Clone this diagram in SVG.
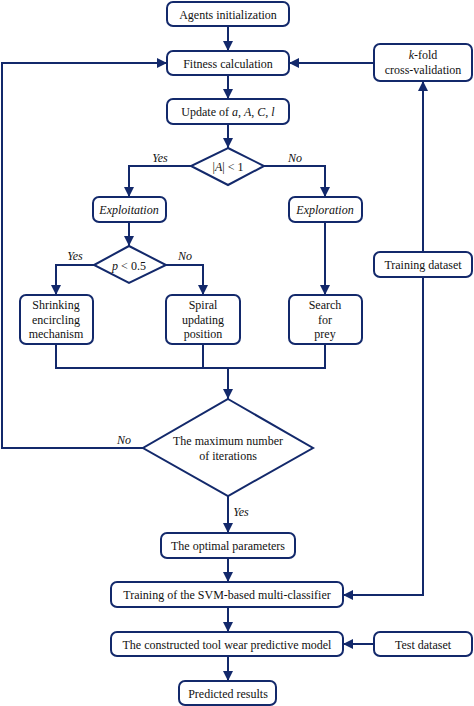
<svg xmlns="http://www.w3.org/2000/svg" width="474" height="706" viewBox="0 0 474 706" font-family="'Liberation Serif', 'DejaVu Serif', serif">
<style>
.box{fill:#fff;stroke:#13296b;stroke-width:2}
.ln{fill:none;stroke:#13296b;stroke-width:2}
.arr{marker-end:url(#ah)}
text{font-family:'Liberation Serif','DejaVu Serif',serif;font-size:12px;fill:#111;text-anchor:middle}
.it{font-style:italic}
</style>
<defs>
<marker id="ah" markerUnits="userSpaceOnUse" markerWidth="10" markerHeight="10" refX="10" refY="5" orient="auto" viewBox="0 0 10 10">
<path d="M0,0 L10,5 L0,10 z" fill="#13296b"/>
</marker>
</defs>
<rect width="474" height="706" fill="#fff"/>
<g id="connectors">
<path class="ln arr" d="M228,26 V51"/>
<path class="ln arr" d="M228,75 V99"/>
<path class="ln arr" d="M228,124 V148"/>
<path class="ln arr" d="M191,166 H129 V197"/>
<path class="ln arr" d="M264,166 H325 V197"/>
<path class="ln arr" d="M129,222 V246"/>
<path class="ln arr" d="M94,265 H56 V295"/>
<path class="ln arr" d="M166,265 H203 V295"/>
<path class="ln arr" d="M325,222 V295"/>
<path class="ln" d="M56,344 V368 H325 V344 M203,344 V368"/>
<path class="ln arr" d="M228,368 V399"/>
<path class="ln arr" d="M143,448 H2 V63 H167"/>
<path class="ln arr" d="M228,496 V533"/>
<path class="ln arr" d="M228,558 V582"/>
<path class="ln arr" d="M228,607 V632"/>
<path class="ln arr" d="M228,656 V681"/>
<path class="ln arr" d="M374,63 H289"/>
<path class="ln arr" d="M423,252 V81"/>
<path class="ln arr" d="M423,277 V595 H343"/>
<path class="ln arr" d="M374,644 H343"/>
<text class="it" x="160" y="162">Yes</text>
<text class="it" x="295" y="162">No</text>
<text class="it" x="75" y="260">Yes</text>
<text class="it" x="185" y="260">No</text>
<text class="it" x="124" y="444">No</text>
<text class="it" x="241" y="516">Yes</text>
</g>
<g id="agents"><rect class="box" x="167" y="2" width="122" height="24" rx="6"/><text x="228" y="18.5">Agents initialization</text></g>
<g id="fitness"><rect class="box" x="167" y="51" width="122" height="24" rx="6"/><text x="228" y="67.5">Fitness calculation</text></g>
<g id="kfold"><rect class="box" x="374" y="44" width="98" height="37" rx="6"/><text x="423" y="59"><tspan class="it">k</tspan>-fold</text><text x="423" y="74">cross-validation</text></g>
<g id="update"><rect class="box" x="167" y="99" width="122" height="25" rx="6"/><text x="228" y="116">Update of <tspan class="it">a</tspan>, <tspan class="it">A</tspan>, <tspan class="it">C</tspan>, <tspan class="it">l</tspan></text></g>
<g id="decisionA"><path class="box" d="M228,148 L264,166 L228,185 L191,166 Z"/><text x="228" y="170.5">|<tspan class="it">A</tspan>| &lt; 1</text></g>
<g id="exploitation"><rect class="box" x="93" y="197" width="73" height="25" rx="6"/><text class="it" x="129" y="214">Exploitation</text></g>
<g id="exploration"><rect class="box" x="289" y="197" width="73" height="25" rx="6"/><text class="it" x="325" y="214">Exploration</text></g>
<g id="decisionP"><path class="box" d="M129,246 L166,265 L129,283 L94,265 Z"/><text x="129" y="269.5"><tspan class="it">p</tspan> &lt; 0.5</text></g>
<g id="shrinking"><rect class="box" x="20" y="295" width="73" height="49" rx="6"/><text x="56" y="309">Shrinking</text><text x="56" y="323.5">encircling</text><text x="56" y="338">mechanism</text></g>
<g id="spiral"><rect class="box" x="166" y="295" width="74" height="49" rx="6"/><text x="203" y="309">Spiral</text><text x="203" y="323.5">updating</text><text x="203" y="338">position</text></g>
<g id="search"><rect class="box" x="289" y="295" width="73" height="49" rx="6"/><text x="325" y="309">Search</text><text x="325" y="323.5">for</text><text x="325" y="338">prey</text></g>
<g id="trainingDataset"><rect class="box" x="374" y="252" width="98" height="25" rx="6"/><text x="423" y="269">Training dataset</text></g>
<g id="maxIter"><path class="box" d="M228,399 L313,448 L228,496 L143,448 Z"/><text x="228" y="445">The maximum number</text><text x="228" y="460">of iterations</text></g>
<g id="optimal"><rect class="box" x="161" y="533" width="134" height="25" rx="6"/><text x="228" y="550">The optimal parameters</text></g>
<g id="svm"><rect class="box" x="111" y="582" width="232" height="25" rx="6"/><text x="227" y="599">Training of the SVM-based multi-classifier</text></g>
<g id="model"><rect class="box" x="111" y="632" width="232" height="24" rx="6"/><text x="227" y="648.5">The constructed tool wear predictive model</text></g>
<g id="testDataset"><rect class="box" x="374" y="632" width="98" height="24" rx="6"/><text x="423" y="648.5">Test dataset</text></g>
<g id="predicted"><rect class="box" x="179" y="681" width="97" height="24" rx="6"/><text x="228" y="697.5">Predicted results</text></g>
</svg>
